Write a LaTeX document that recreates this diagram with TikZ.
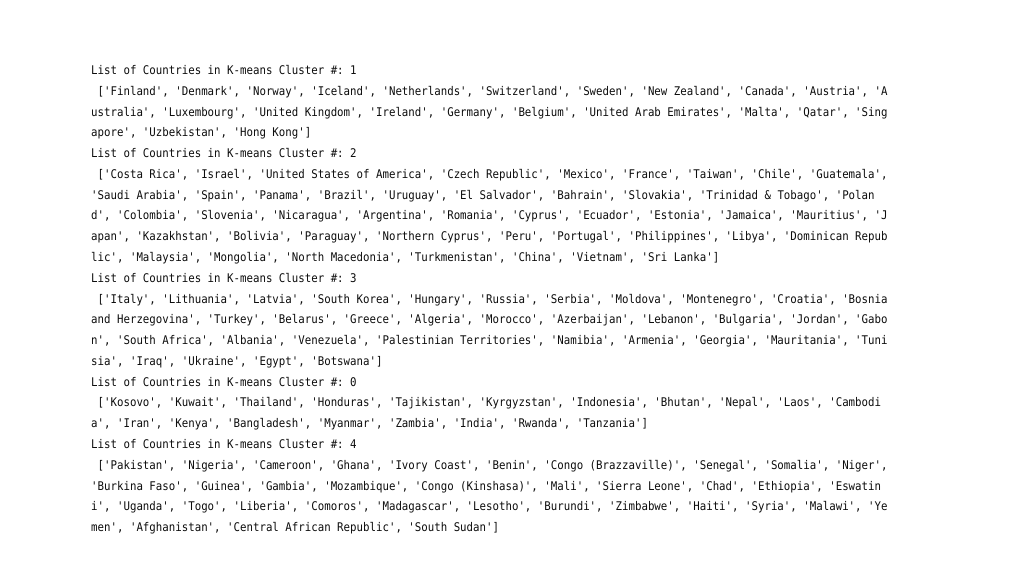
\documentclass[tikz,border=0pt]{standalone}
\usepackage{fontspec}
\setmonofont{DejaVu Sans Mono}[FakeStretch=0.9]
\begin{document}
\begin{tikzpicture}[x=1pt,y=-1pt,
  ln/.style={anchor=base west,inner sep=0pt,text=black!95,
    font=\ttfamily\fontsize{11.95}{13}\selectfont\frenchspacing}]
\fill[white] (0,0) rectangle (1024,576);
\useasboundingbox (0,0) rectangle (1024,576);
\node[ln] (l1) at (91,74.6) {List of Countries in K-means Cluster \#: 1};
\node[ln] (l2) at (91,95.37) {~['Finland', 'Denmark', 'Norway', 'Iceland', 'Netherlands', 'Switzerland', 'Sweden', 'New Zealand', 'Canada', 'Austria', 'A};
\node[ln] (l3) at (91,116.14) {ustralia', 'Luxembourg', 'United Kingdom', 'Ireland', 'Germany', 'Belgium', 'United Arab Emirates', 'Malta', 'Qatar', 'Sing};
\node[ln] (l4) at (91,136.91) {apore', 'Uzbekistan', 'Hong Kong']};
\node[ln] (l5) at (91,157.68) {List of Countries in K-means Cluster \#: 2};
\node[ln] (l6) at (91,178.45) {~['Costa Rica', 'Israel', 'United States of America', 'Czech Republic', 'Mexico', 'France', 'Taiwan', 'Chile', 'Guatemala',};
\node[ln] (l7) at (91,199.22) {'Saudi Arabia', 'Spain', 'Panama', 'Brazil', 'Uruguay', 'El Salvador', 'Bahrain', 'Slovakia', 'Trinidad \& Tobago', 'Polan};
\node[ln] (l8) at (91,219.99) {d', 'Colombia', 'Slovenia', 'Nicaragua', 'Argentina', 'Romania', 'Cyprus', 'Ecuador', 'Estonia', 'Jamaica', 'Mauritius', 'J};
\node[ln] (l9) at (91,240.76) {apan', 'Kazakhstan', 'Bolivia', 'Paraguay', 'Northern Cyprus', 'Peru', 'Portugal', 'Philippines', 'Libya', 'Dominican Repub};
\node[ln] (l10) at (91,261.53) {lic', 'Malaysia', 'Mongolia', 'North Macedonia', 'Turkmenistan', 'China', 'Vietnam', 'Sri Lanka']};
\node[ln] (l11) at (91,282.3) {List of Countries in K-means Cluster \#: 3};
\node[ln] (l12) at (91,303.07) {~['Italy', 'Lithuania', 'Latvia', 'South Korea', 'Hungary', 'Russia', 'Serbia', 'Moldova', 'Montenegro', 'Croatia', 'Bosnia};
\node[ln] (l13) at (91,323.84) {and Herzegovina', 'Turkey', 'Belarus', 'Greece', 'Algeria', 'Morocco', 'Azerbaijan', 'Lebanon', 'Bulgaria', 'Jordan', 'Gabo};
\node[ln] (l14) at (91,344.61) {n', 'South Africa', 'Albania', 'Venezuela', 'Palestinian Territories', 'Namibia', 'Armenia', 'Georgia', 'Mauritania', 'Tuni};
\node[ln] (l15) at (91,365.38) {sia', 'Iraq', 'Ukraine', 'Egypt', 'Botswana']};
\node[ln] (l16) at (91,386.15) {List of Countries in K-means Cluster \#: 0};
\node[ln] (l17) at (91,406.92) {~['Kosovo', 'Kuwait', 'Thailand', 'Honduras', 'Tajikistan', 'Kyrgyzstan', 'Indonesia', 'Bhutan', 'Nepal', 'Laos', 'Cambodi};
\node[ln] (l18) at (91,427.69) {a', 'Iran', 'Kenya', 'Bangladesh', 'Myanmar', 'Zambia', 'India', 'Rwanda', 'Tanzania']};
\node[ln] (l19) at (91,448.46) {List of Countries in K-means Cluster \#: 4};
\node[ln] (l20) at (91,469.23) {~['Pakistan', 'Nigeria', 'Cameroon', 'Ghana', 'Ivory Coast', 'Benin', 'Congo (Brazzaville)', 'Senegal', 'Somalia', 'Niger',};
\node[ln] (l21) at (91,490.0) {'Burkina Faso', 'Guinea', 'Gambia', 'Mozambique', 'Congo (Kinshasa)', 'Mali', 'Sierra Leone', 'Chad', 'Ethiopia', 'Eswatin};
\node[ln] (l22) at (91,510.77) {i', 'Uganda', 'Togo', 'Liberia', 'Comoros', 'Madagascar', 'Lesotho', 'Burundi', 'Zimbabwe', 'Haiti', 'Syria', 'Malawi', 'Ye};
\node[ln] (l23) at (91,531.54) {men', 'Afghanistan', 'Central African Republic', 'South Sudan']};
\end{tikzpicture}
\end{document}
